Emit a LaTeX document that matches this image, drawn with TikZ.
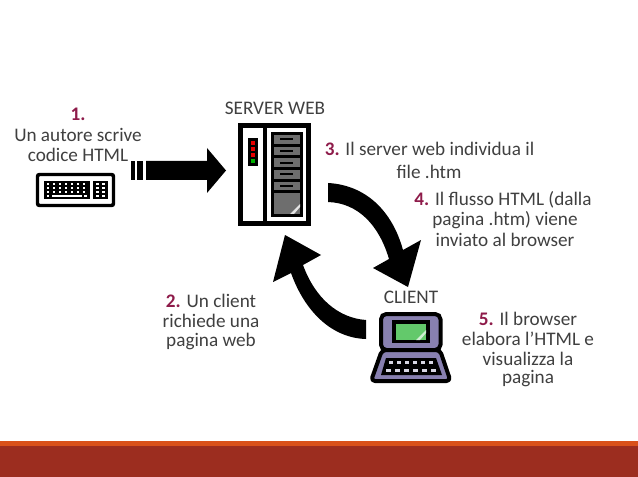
\documentclass[tikz,border=0pt]{standalone}
\usepackage{fontspec}
\setmainfont{Carlito}
\definecolor{txt}{HTML}{404040}
\definecolor{num}{HTML}{8E1B4A}
\definecolor{bandA}{HTML}{9C2D1F}
\definecolor{bandB}{HTML}{D9511A}
\definecolor{lap}{HTML}{8880B0}
\definecolor{scr}{HTML}{63C96B}
\definecolor{keycap}{HTML}{D8D8E4}
\definecolor{drawer}{HTML}{6E6E6E}
\tikzset{
  lbl/.style={text=txt,font=\fontsize{14.4}{14.4}\selectfont,inner sep=0pt,anchor=center},
  blk/.style={fill=black,draw=none},
}
\newcommand{\nm}[1]{\textcolor{num}{\textbf{#1}}}
\begin{document}
\begin{tikzpicture}[x=0.75pt,y=-0.75pt]
\useasboundingbox (0,0) rectangle (638,477);
\fill[white] (0,0) rectangle (638,477);
% band
\fill[bandB] (0,441) rectangle (638,445.5);
\fill[bandA] (0,445.5) rectangle (638,477);
% labels
\node[lbl] (n1) at (78,114) {\nm{1.}};
\node[lbl] (n1a) at (78,135) {Un autore scrive};
\node[lbl] (n1b) at (78,155) {codice HTML};
\node[lbl] (srv) at (275,108) {SERVER WEB};
\node[lbl] (n3a) at (429.5,149) {\nm{3.} Il server web individua il};
\node[lbl] (n3b) at (429,172) {file .htm};
\node[lbl] (n4a) at (503,200) {\nm{4.} Il flusso HTML (dalla};
\node[lbl] (n4b) at (505,220) {pagina .htm) viene};
\node[lbl] (n4c) at (505,240) {inviato al browser};
\node[lbl] (n2a) at (211,301) {\nm{2.} Un client};
\node[lbl] (n2b) at (211,321) {richiede una};
\node[lbl] (n2c) at (211,341) {pagina web};
\node[lbl] (cli) at (411,297) {CLIENT};
\node[lbl] (n5a) at (528,319) {\nm{5.} Il browser};
\node[lbl] (n5b) at (528,339) {elabora l’HTML e};
\node[lbl] (n5c) at (528,359) {visualizza la};
\node[lbl] (n5d) at (528,379) {pagina};
% keyboard
\draw[black,line width=2.6pt,fill=white,rounded corners=1.5pt] (37.5,174.5) rectangle (113.5,205.5);
\fill[black] (44,181) rectangle (90,199);
\fill[black] (93,181) rectangle (108,199);
\foreach \r in {184,188,192}{
  \foreach \i in {0,...,6}{ \fill[white] (46.5+\i*6,\r-1) rectangle ++(2.8,1.8); }
  \foreach \i in {0,1}{ \fill[white] (96+\i*6,\r-1) rectangle ++(2.8,1.8); }
}
\fill[white] (46.5,195) rectangle ++(2.8,1.8);
\fill[white] (52,195) rectangle (82,196.8);
\fill[white] (84,195) rectangle ++(2.8,1.8);
\foreach \i in {0,1}{ \fill[white] (96+\i*6,195) rectangle ++(2.8,1.8); }
% right arrow
\fill[black] (131,161) rectangle (135,180);
\fill[black] (137,161) rectangle (143,180);
\fill[blk] (146,161) -- (207,161) -- (207,148) -- (226,170.5) -- (207,193) -- (207,180) -- (146,180) -- cycle;
% server
\fill[black] (238,123) rectangle (311,226);
\fill[white] (243,128) rectangle (263,221);
\fill[white] (267,128) rectangle (306,221);
\fill[black] (248,138) rectangle (258,166);
\foreach \y in {143,149,155}{ \fill[red!90!black] (250.5,\y-2) rectangle ++(4.5,4); }
\fill[green!70!black] (250.5,159) rectangle ++(4.5,4);
\fill[black] (271,132) rectangle (303,217);
\foreach \y in {135,146.7,158.3,170,181.6}{
  \fill[drawer] (274,\y) rectangle (300,\y+8.8);
  \fill[black] (280,\y+3.5) rectangle (293,\y+5.5);
}
\fill[drawer] (274,193) rectangle (300,214);
\fill[white!80!gray] (290,214) -- (300,204) -- (300,207) -- (294,214) -- cycle;
% down arrow
\coordinate (dS1) at (328,183);
\coordinate (dS2) at (328,202);
\fill[blk] (dS1) .. controls (365,185) and (392,210) .. (403,250)
  -- (421,240) -- (408,287) -- (373,268) -- (389,259)
  .. controls (379,225) and (358,203) .. (dS2) -- cycle;
% up arrow
\coordinate (uS1) at (366,320);
\coordinate (uS2) at (366,339);
\fill[blk] (uS1) .. controls (338,318) and (315,298) .. (303,265)
  -- (321,255) -- (285,235) -- (273,282) -- (291,273)
  .. controls (305,312) and (332,338) .. (uS2) -- cycle;
% laptop
\draw[black,line width=3pt,fill=lap,rounded corners=4pt] (381,314) rectangle (440.5,350);
\fill[black] (392,320) rectangle (430,343);
\fill[scr] (396,324) rectangle (426,340);
\fill[white!70!scr] (416,340) -- (426,330) -- (426,333) -- (420,340) -- cycle;
\draw[black,line width=3pt,fill=lap,rounded corners=3pt,line join=round] (382,350) -- (440,350) -- (450.5,381) -- (371,381) -- cycle;
\fill[black] (386,358) -- (436,358) -- (442,375) -- (381,375) -- cycle;
\foreach \i in {0,...,5}{
  \fill[keycap] (388.5+\i*8,360.5) rectangle ++(4.5,3.2);
  \fill[keycap] (386+\i*9,368.5) rectangle ++(5,3.2);
}
\end{tikzpicture}
\end{document}
